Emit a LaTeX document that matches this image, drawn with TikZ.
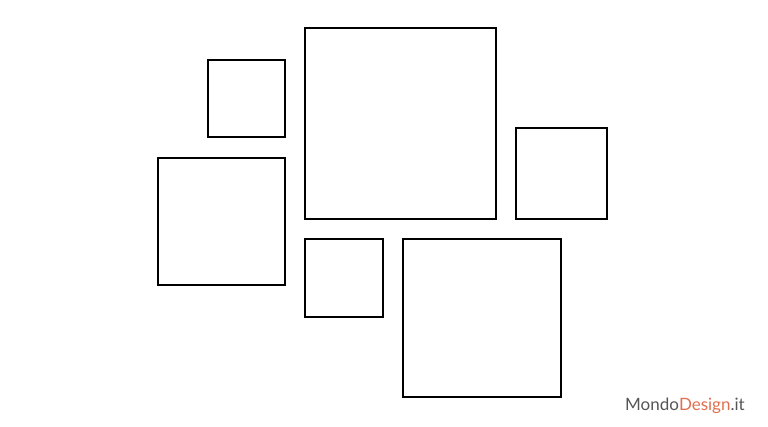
\documentclass[tikz,border=0pt]{standalone}
\usepackage{fontspec}
\newfontfamily\logofont{Lato}
\usetikzlibrary{positioning}
\definecolor{logogray}{HTML}{555555}
\definecolor{logoorange}{HTML}{E0704F}
\tikzset{
  frame/.style={draw, line width=1.5pt, inner sep=0pt, minimum size=#1},
}

\begin{document}
\begin{tikzpicture}[x=1pt, y=-1pt]
    \useasboundingbox (0, 0) rectangle (768, 427);
    % frames, sizes in px
    \node [frame=77pt]  (small)  at (246.5, 98.5)  {};
    \node [frame=191pt] (big)    at (400.5, 123.5) {};
    \node [frame=91pt]  (right)  at (561.5, 173.5) {};
    \node [frame=127pt] (left)   at (221.5, 221.5) {};
    \node [frame=78pt]  (tiny)   at (344, 278)     {};
    \node [frame=158pt] (bottom) at (482, 318)     {};

    % logo
    \node [anchor=base west, inner sep=0pt, font=\logofont\fontsize{17}{17}\selectfont]
        (logo) at (625, 410)
        {\textcolor{logogray}{Mondo}\textcolor{logoorange}{Design}\textcolor{logogray}{.it}};
\end{tikzpicture}
\end{document}
